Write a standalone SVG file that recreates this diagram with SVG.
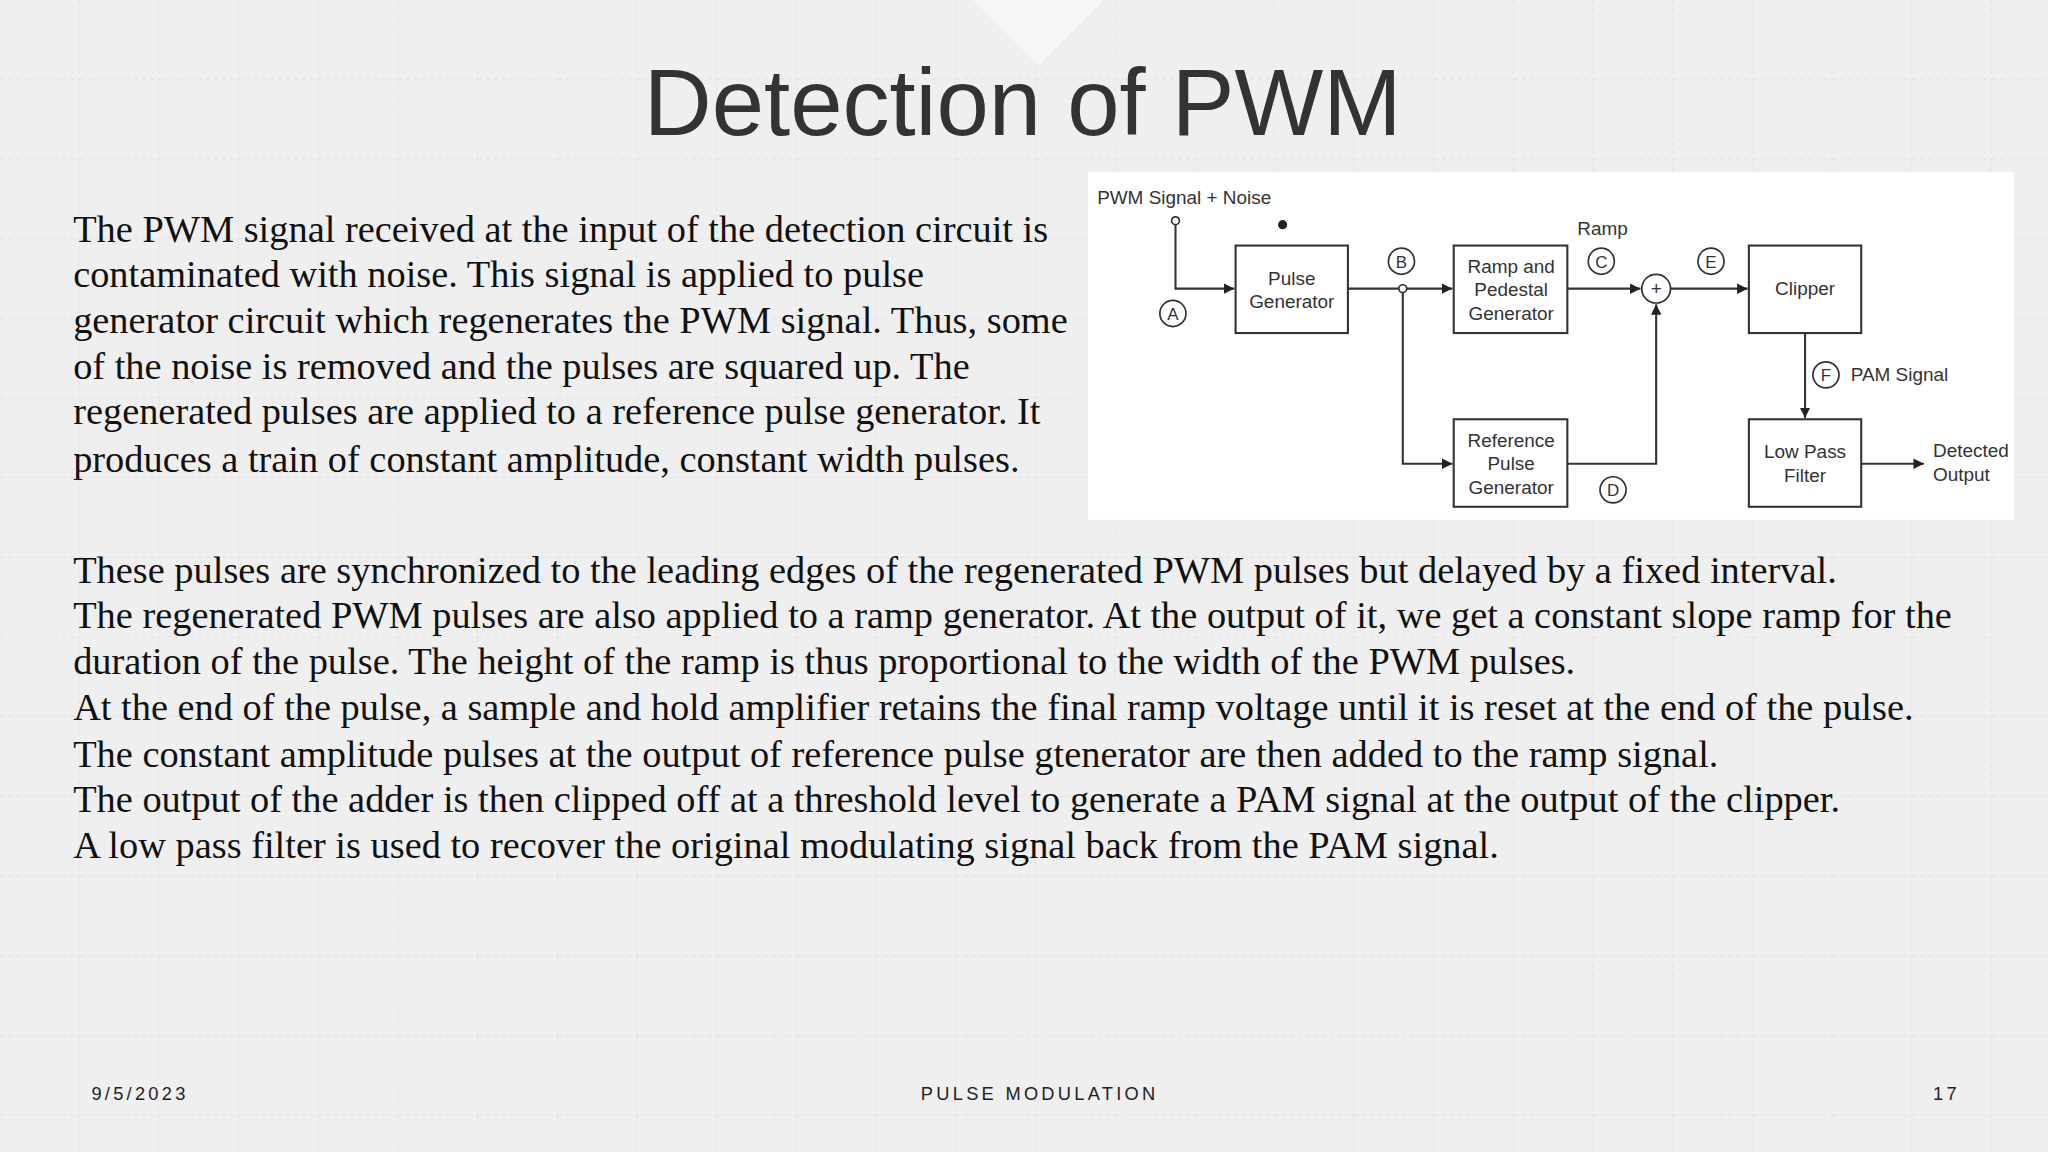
<svg xmlns="http://www.w3.org/2000/svg" width="2048" height="1152" viewBox="0 0 2048 1152">
<defs>
<pattern id="grid" width="61" height="61" patternUnits="userSpaceOnUse">
<path d="M61 0V61M0 61H61" fill="none" stroke="#dcdcdc" stroke-width="1" stroke-dasharray="3 3"/>
</pattern>
<marker id="ar" viewBox="0 0 10 10" refX="10" refY="5" markerWidth="8" markerHeight="8" markerUnits="userSpaceOnUse" orient="auto"><path d="M0 0L10 5L0 10z" fill="#222"/></marker>
<style>
.body{font-family:"Liberation Serif",serif;font-size:29.4px;fill:#111}
.d{font-family:"Liberation Sans Narrow","Liberation Sans",sans-serif;font-size:14.5px;fill:#333}
.bx{fill:#fff;stroke:#333;stroke-width:1.6}
.ln{fill:none;stroke:#333;stroke-width:1.6}
.lb{fill:#fff;stroke:#333;stroke-width:1.3}
.ft{font-family:"Liberation Sans",sans-serif;font-size:14px;fill:#222;letter-spacing:2.5px}
</style>
</defs>
<g transform="scale(1.30612)">
<rect width="1568" height="882" fill="#efefef"/>
<rect width="1568" height="882" fill="url(#grid)"/>
<path d="M745 0H845L795 50z" fill="#f7f7f7"/>
<text x="783" y="103" text-anchor="middle" font-family="Liberation Sans,sans-serif" font-size="72" fill="#333">Detection of PWM</text>
<g id="para1" class="body">
<text x="56" y="185">The PWM signal received at the input of the detection circuit is</text>
<text x="56" y="220">contaminated with noise. This signal is applied to pulse</text>
<text x="56" y="255">generator circuit which regenerates the PWM signal. Thus, some</text>
<text x="56" y="290">of the noise is removed and the pulses are squared up. The</text>
<text x="56" y="325">regenerated pulses are applied to a reference pulse generator. It</text>
<text x="56" y="361">produces a train of constant amplitude, constant width pulses.</text>
</g>
<g id="para2" class="body">
<text x="56" y="446">These pulses are synchronized to the leading edges of the regenerated PWM pulses but delayed by a fixed interval.</text>
<text x="56" y="481">The regenerated PWM pulses are also applied to a ramp generator. At the output of it, we get a constant slope ramp for the</text>
<text x="56" y="516">duration of the pulse. The height of the ramp is thus proportional to the width of the PWM pulses.</text>
<text x="56" y="551">At the end of the pulse, a sample and hold amplifier retains the final ramp voltage until it is reset at the end of the pulse.</text>
<text x="56" y="587">The constant amplitude pulses at the output of reference pulse gtenerator are then added to the ramp signal.</text>
<text x="56" y="622">The output of the adder is then clipped off at a threshold level to generate a PAM signal at the output of the clipper.</text>
<text x="56" y="657">A low pass filter is used to recover the original modulating signal back from the PAM signal.</text>
</g>
<rect x="833" y="132" width="709" height="266" fill="#fff"/>
<g id="connectors">
<path class="ln" d="M900 172V221H945" marker-end="url(#ar)"/>
<path class="ln" d="M1032 221H1112" marker-end="url(#ar)"/>
<path class="ln" d="M1074 221V355H1112" marker-end="url(#ar)"/>
<path class="ln" d="M1200 221H1256" marker-end="url(#ar)"/>
<path class="ln" d="M1200 355H1268V233" marker-end="url(#ar)"/>
<path class="ln" d="M1279 221H1338" marker-end="url(#ar)"/>
<path class="ln" d="M1382 255V320" marker-end="url(#ar)"/>
<path class="ln" d="M1425 355H1473" marker-end="url(#ar)"/>
</g>
<g id="labels" class="d">
<text x="840" y="156">PWM Signal + Noise</text>
<circle cx="900" cy="169" r="3" class="lb"/>
<circle cx="982" cy="172" r="3.5" fill="#222"/>
<circle cx="1074" cy="221" r="3" class="lb"/>
<text x="1227" y="180" text-anchor="middle">Ramp</text>
<text x="1417" y="292">PAM Signal</text>
<text x="1480" y="350">Detected</text>
<text x="1480" y="368">Output</text>
<g text-anchor="middle" font-size="13">
<circle cx="898" cy="240" r="10" class="lb"/><text x="898" y="245">A</text>
<circle cx="1073" cy="200" r="10" class="lb"/><text x="1073" y="205">B</text>
<circle cx="1226" cy="200" r="10" class="lb"/><text x="1226" y="205">C</text>
<circle cx="1235" cy="375" r="10" class="lb"/><text x="1235" y="380">D</text>
<circle cx="1310" cy="200" r="10" class="lb"/><text x="1310" y="205">E</text>
<circle cx="1398" cy="287" r="10" class="lb"/><text x="1398" y="292">F</text>
</g>
</g>
<g id="pulsegen" class="d" text-anchor="middle"><rect class="bx" x="946" y="188" width="86" height="67"/><text x="989" y="218">Pulse</text><text x="989" y="236">Generator</text></g>
<g id="ramp" class="d" text-anchor="middle"><rect class="bx" x="1113" y="188" width="87" height="67"/><text x="1157" y="209">Ramp and</text><text x="1157" y="227">Pedestal</text><text x="1157" y="245">Generator</text></g>
<g id="adder"><circle cx="1268" cy="221" r="11" class="lb"/><text x="1268" y="226" text-anchor="middle" class="d" font-size="14">+</text></g>
<g id="clipper" class="d" text-anchor="middle"><rect class="bx" x="1339" y="188" width="86" height="67"/><text x="1382" y="226">Clipper</text></g>
<g id="refgen" class="d" text-anchor="middle"><rect class="bx" x="1113" y="321" width="87" height="67"/><text x="1157" y="342">Reference</text><text x="1157" y="360">Pulse</text><text x="1157" y="378">Generator</text></g>
<g id="lpf" class="d" text-anchor="middle"><rect class="bx" x="1339" y="321" width="86" height="67"/><text x="1382" y="351">Low Pass</text><text x="1382" y="369">Filter</text></g>
<text x="70" y="842" class="ft">9/5/2023</text>
<text x="796" y="842" class="ft" text-anchor="middle">PULSE MODULATION</text>
<text x="1480" y="842" class="ft">17</text>
</g>
</svg>
